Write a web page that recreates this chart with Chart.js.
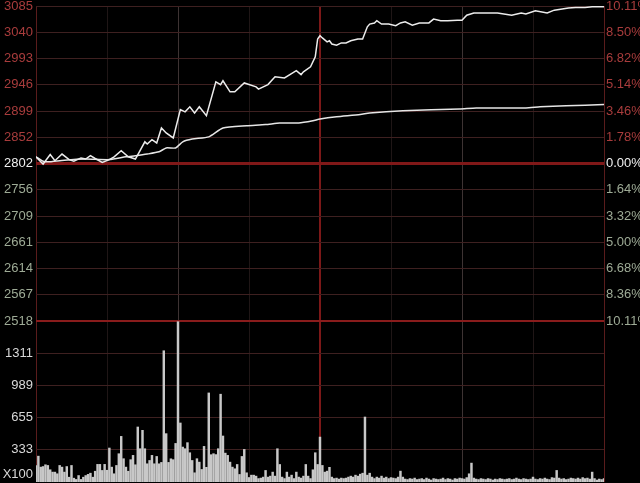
<!DOCTYPE html>
<html>
<head>
<meta charset="utf-8">
<title>分时图</title>
<script src="https://cdn.jsdelivr.net/npm/chart.js@4.4.1/dist/chart.umd.min.js"></script>
<style>
  html, body { margin:0; padding:0; background:#000; overflow:hidden; }
  #wrap { width:640px; height:483px; position:relative; }
</style>
</head>
<body>
<div id="wrap"><canvas id="fenshi"></canvas></div>
<script>
/*--intraday index chart--*/
// minutes from the open (0 = 09:30, 240 = 15:00)
var priceTime = [0,3,6,8,11,14,16,19,21,23,25,28,31,33,36,39,42,46,47,49,51,53,55,58,61,63,65,67,69,72,
    76,78,79,82,84,88,93,94,98,101,105,110,112,113,116,118,119,120,121,123,124,125,127,129,131,133,136,138,140,141,
    143,144,146,149,152,154,156,159,162,166,168,171,174,178,180,182,185,190,195,201,205,207,211,216,219,225,228,232,235,240];
var price = [2814,2801,2818,2807,2819,2809,2806,2812,2810,2816,2811,2804,2809,2814,2825,2814,2810,2841,2837,2845,2839,2866,2857,2848,2899,2895,2904,2893,2904,2888,
    2949,2944,2951,2931,2931,2947,2940,2936,2944,2958,2956,2969,2962,2967,2976,2994,3026,3032,3028,3021,3023,3017,3015,3019,3019,3023,3026,3026,3048,3053,
    3055,3059,3053,3053,3050,3055,3057,3051,3055,3055,3062,3059,3059,3060,3060,3069,3073,3073,3073,3069,3073,3071,3077,3073,3078,3082,3083,3083,3084,3084];

var avgTime  = [0,3,5,12,21,31,38,42,47,52,55,59,62,66,73,79,89,97,103,111,117,120,127,137,141,155,179,186,207,213,224,240];
var avgPrice = [2814,2806,2805,2808,2810,2809,2814,2816,2819,2823,2830,2830,2841,2846,2850,2866,2870,2872,2875,2875,2879,2882,2886,2890,2893,2897,2900,2902,2902,2904,2906,2908];

// volume per minute, x100
var volume = [
    169,264,152,158,176,169,125,101,101,84,
    169,152,101,158,49,169,39,26,66,26,
    49,66,78,90,49,110,180,180,118,180,
    120,347,152,84,169,289,466,238,152,110,
    228,272,176,562,340,528,340,186,220,272,
    186,261,186,200,1341,494,200,237,228,394,
    1638,603,357,340,402,299,220,94,238,203,
    128,364,150,910,279,289,280,340,897,470,
    295,272,203,152,135,179,77,261,333,94,
    46,70,70,60,35,40,50,118,50,60,
    101,60,340,179,50,35,101,50,70,35,
    101,50,40,60,179,60,35,125,299,179,
    459,169,101,111,150,50,35,40,30,40,
    35,40,50,60,50,70,60,80,90,664,
    70,90,50,35,50,40,60,40,50,35,
    45,40,35,50,111,50,30,25,35,30,
    40,25,30,35,25,40,30,20,35,30,
    25,30,40,25,35,30,20,35,30,40,
    35,30,45,84,193,40,30,25,35,30,
    25,35,30,20,30,25,35,30,25,30,
    35,25,30,40,30,25,35,30,25,30,
    50,30,25,35,30,40,30,25,45,40,
    118,40,30,35,25,30,40,35,30,40,
    30,45,35,40,30,101,35,20,30,25,
    35
];

// labels, top to bottom
var priceLabels = ['3085','3040','2993','2946','2899','2852','2802','2756','2709','2661','2614','2567','2518'];
var pctLabels = ['10.11%','8.50%','6.82%','5.14%','3.46%','1.78%','0.00%','1.64%','3.32%','5.00%','6.68%','8.36%','10.11%'];
var volTicks = [333, 655, 989, 1311];
var volUnit = 'X100';

var priceMin = 2518.5, priceMax = 3085.5, volMax = 1645;

var FONT = {family: "'Liberation Sans', Arial, sans-serif", size: 13};

function sideColor(i) { // i counted from the top
    if (i < 6) return '#a83c3c';
    if (i == 6) return '#f0f0f0';
    return '#9eab96';
}

function priceTicks(scale) {
    var step = (priceMax - priceMin) / 12;
    var t = [];
    for (var k = 0; k <= 12; k++) t.push({value: priceMin + k * step});
    scale.ticks = t;
}

function fixWidth(scale) {
    scale.width = 36;
    scale.paddingTop = 0;
    scale.paddingBottom = 0;
}

function tickVal(c) {
    return (c && c.tick) ? c.tick.value : -1;
}

var linePts = priceTime.map(function(t, i){ return {x: t, y: price[i]}; });
var avgPts = avgTime.map(function(t, i){ return {x: t, y: avgPrice[i]}; });
var volPts = volume.map(function(v, i){ return {x: i, y: v}; });

// unit label under the volume ticks
var unitLabel = {
    id: 'unitLabel',
    afterDraw: function(chart) {
        var s = chart.scales.yVol;
        var ctx = chart.ctx;
        ctx.save();
        ctx.font = "13px 'Liberation Sans', Arial, sans-serif";
        ctx.fillStyle = '#d8d8d8';
        ctx.textAlign = 'right';
        ctx.textBaseline = 'middle';
        ctx.fillText(volUnit, s.right - 3, s.bottom - 8);
        ctx.restore();
    }
};

var ctx = document.getElementById('fenshi').getContext('2d');
var fenshi = new Chart(ctx, {
    type: 'line',
    data: {
        datasets: [{
            label: '指数',
            data: linePts,
            yAxisID: 'yPrice',
            borderColor: '#ececec',
            borderWidth: 1.5,
            pointRadius: 0,
            tension: 0
        },
        {
            label: '均价',
            data: avgPts,
            yAxisID: 'yPrice',
            borderColor: '#e6e6e6',
            borderWidth: 1.5,
            pointRadius: 0,
            tension: 0.2
        },
        {
            type: 'bar',
            label: '成交量',
            data: volPts,
            yAxisID: 'yVol',
            backgroundColor: '#c8c8c8',
            barThickness: 1.8
        }]
    },
    options: {
        responsive: true,
        maintainAspectRatio: false,
        animation: false,
        layout: { padding: {top: 6, bottom: 1} },
        plugins: { legend: {display: false}, tooltip: {enabled: false} },
        scales: {
            x: {
                type: 'linear', min: 0, max: 240, offset: false,
                afterBuildTicks: function(scale){
                    var t = [];
                    for (var m = 0; m <= 240; m += 30) t.push({value: m});
                    scale.ticks = t;
                },
                afterFit: function(scale){ scale.height = 0; },
                ticks: {display: false},
                border: {display: false},
                grid: {
                    offset: false,
                    drawTicks: false,
                    color: function(c){
                        var v = tickVal(c);
                        if (v == 120) return '#7c1818';
                        if (v == 0 || v == 240) return '#5a1c1c';
                        if (v == 60 || v == 180) return '#3d3333';
                        return '#1f1616';
                    },
                    lineWidth: function(c){ return tickVal(c) == 120 ? 2 : 1; }
                }
            },
            yPrice: {
                position: 'left', stack: 'l', stackWeight: 315, weight: 2,
                min: priceMin, max: priceMax,
                afterBuildTicks: priceTicks,
                afterFit: fixWidth,
                border: {display: false},
                ticks: {
                    font: FONT, padding: 3, autoSkip: false,
                    color: function(c){ return sideColor(12 - c.index); },
                    callback: function(v, i){ return priceLabels[12 - i]; }
                },
                grid: {
                    drawTicks: false,
                    color: function(c){
                        var i = 12 - c.index;
                        if (i == 6) return '#801818';
                        if (i == 12) return '#8a1c1c';
                        return '#3e2020';
                    },
                    lineWidth: function(c){
                        var i = 12 - c.index;
                        return i == 6 ? 3 : (i == 12 ? 2 : 1);
                    }
                }
            },
            yVol: {
                position: 'left', stack: 'l', stackWeight: 161, weight: 1,
                min: 0, max: volMax,
                afterBuildTicks: function(scale){
                    scale.ticks = volTicks.map(function(v){ return {value: v}; });
                },
                afterFit: fixWidth,
                border: {display: false},
                ticks: {
                    font: FONT, padding: 3, color: '#d8d8d8', autoSkip: false,
                    callback: function(v){ return String(v); }
                },
                grid: { drawTicks: false, color: '#3e2020' }
            },
            yPct: {
                position: 'right', stack: 'r', stackWeight: 315, weight: 1,
                min: priceMin, max: priceMax,
                afterBuildTicks: priceTicks,
                afterFit: fixWidth,
                border: {display: false},
                ticks: {
                    font: FONT, padding: 2, autoSkip: false,
                    color: function(c){ return sideColor(12 - c.index); },
                    callback: function(v, i){ return pctLabels[12 - i]; }
                },
                grid: {display: false, drawTicks: false}
            },
            yVolR: {
                position: 'right', stack: 'r', stackWeight: 161, weight: 2,
                min: 0, max: volMax,
                afterFit: fixWidth,
                border: {display: false},
                ticks: {display: false},
                grid: {display: false, drawTicks: false}
            }
        }
    },
    plugins: [unitLabel]
});
</script>
</body>
</html>
